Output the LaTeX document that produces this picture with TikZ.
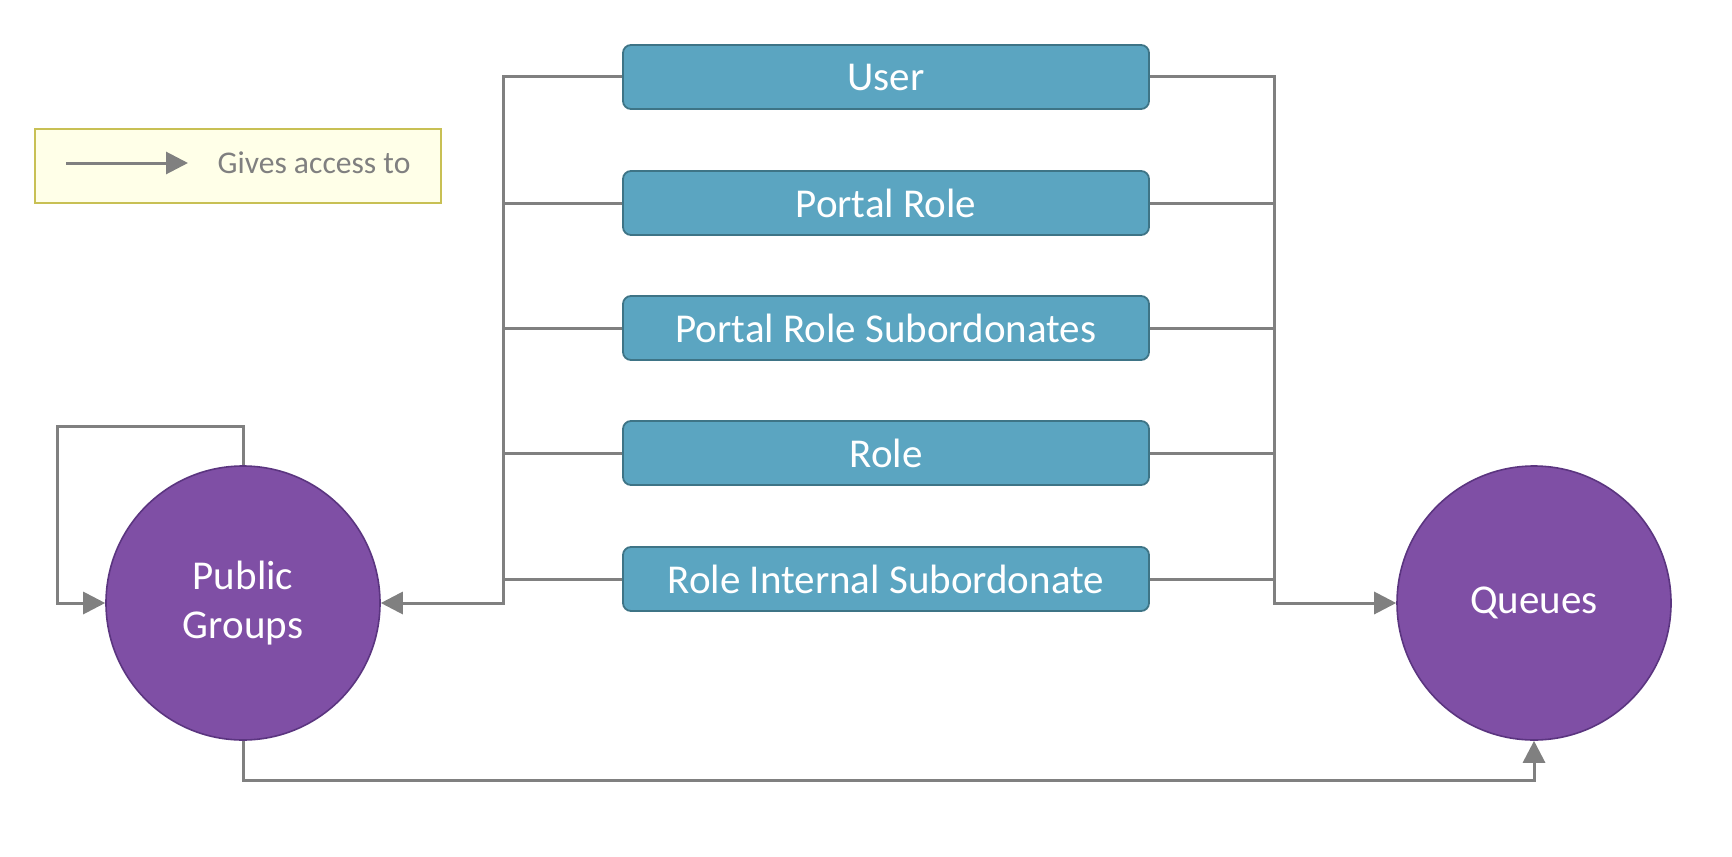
\documentclass[tikz,border=0pt]{standalone}
\usepackage{fontspec}
\setmainfont{Carlito}
\usetikzlibrary{arrows.meta}
\definecolor{boxblue}{HTML}{5BA5C1}
\definecolor{boxedge}{HTML}{3E7486}
\definecolor{grpfill}{HTML}{7F4FA5}
\definecolor{grpedge}{HTML}{5B3580}
\definecolor{linegray}{HTML}{808080}
\definecolor{legfill}{HTML}{FFFFE8}
\definecolor{legedge}{HTML}{C8C054}

\begin{document}
\begin{tikzpicture}[x=0.5pt,y=-0.5pt,>={Triangle[length=11pt,width=11pt]},
  access/.style={draw=linegray,line width=1.5pt},
  rolebox/.style={draw=boxedge,line width=0.9pt,fill=boxblue,rounded corners=4pt,
    minimum width=263pt,minimum height=32pt,text=white,font=\fontsize{20.5}{24}\selectfont},
  group/.style={circle,draw=grpedge,line width=0.8pt,fill=grpfill,minimum size=137pt,
    text=white,align=center,font=\fontsize{20.5}{24.5}\selectfont}]
  \useasboundingbox (0,0) rectangle (1732,856);
  % legend
  \node[draw=legedge,line width=0.6pt,fill=legfill,minimum width=203pt,minimum height=37pt] (legend) at (238,166) {};
  \coordinate (legfrom) at (66,163);
  \coordinate (legto) at (188,163);
  \draw[access,->] (legfrom) -- (legto);
  \node[text=linegray,font=\fontsize{15.8}{18}\selectfont] (legtext) at (314,163) {Gives access to};
  % sources
  \node[rolebox] (user)       at (886,77)  {User};
  \node[rolebox] (portalrole) at (886,203) {Portal Role};
  \node[rolebox] (portalsub)  at (886,328) {Portal Role Subordonates};
  \node[rolebox] (role)       at (886,453) {Role};
  \node[rolebox] (rolesub)    at (886,579) {Role Internal Subordonate};
  % targets
  \node[group] (pubgroups) at (243,603)  {Public\\Groups};
  \node[group] (queues)    at (1534,603) {Queues};
  % buses
  \coordinate (lbus) at (503,77);
  \coordinate (rbus) at (1274,77);
  \foreach \b in {portalrole,portalsub,role,rolesub}{
    \draw[access] (\b.west) -- (\b.west -| lbus);
    \draw[access] (\b.east) -- (\b.east -| rbus);
  }
  \draw[access,->] (user.west) -- (lbus) |- (pubgroups.east);
  \draw[access,->] (user.east) -- (rbus) |- (queues.west);
  % groups in groups, groups to queues
  \coordinate (loopcorner) at (57,426);
  \draw[access,->] (pubgroups.north) |- (loopcorner) |- (pubgroups.west);
  \coordinate (lowrun) at (1534,780);
  \draw[access,->] (pubgroups.south) |- (lowrun) -- (queues.south);
\end{tikzpicture}
\end{document}
